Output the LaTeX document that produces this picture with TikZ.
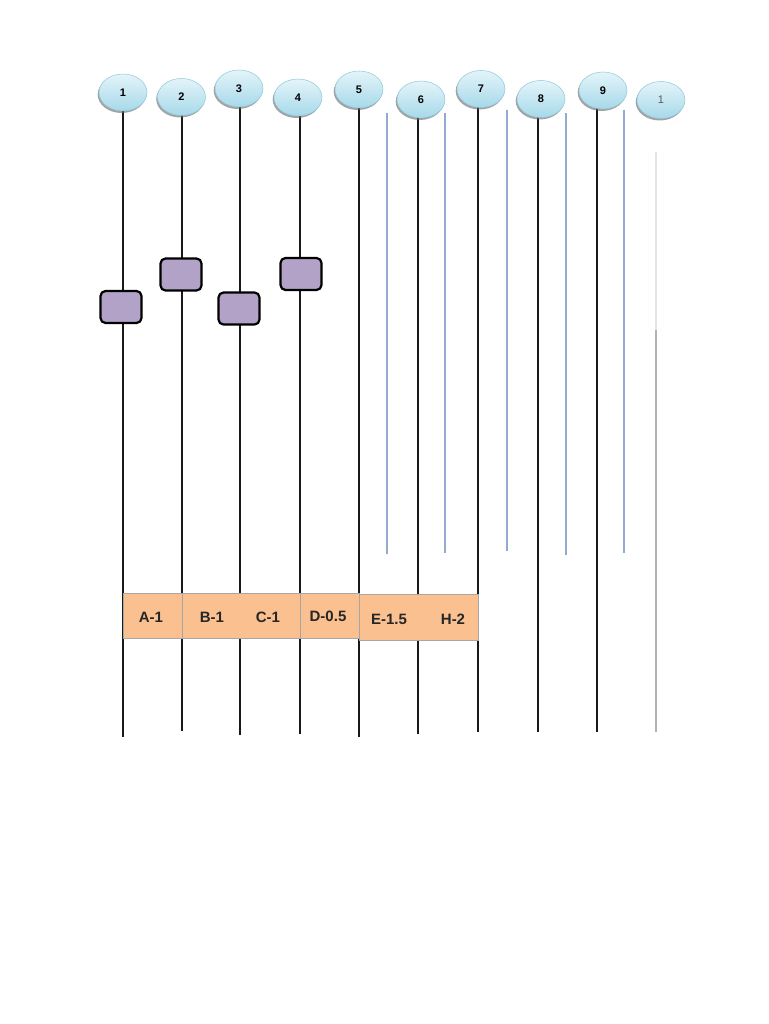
\documentclass[tikz,border=0pt]{standalone}
\usepackage{fontspec}
\setmainfont{Liberation Sans}
\usetikzlibrary{shadows,shapes.geometric,backgrounds}
\definecolor{oran}{HTML}{FAC090}
\definecolor{purp}{HTML}{B3A2C7}
\definecolor{bluel}{HTML}{93ABD3}
\definecolor{elltop}{HTML}{E4F4F9}
\definecolor{ellbot}{HTML}{A6D9EA}
\definecolor{elledge}{HTML}{8EC8DB}
\begin{document}
\begin{tikzpicture}[x=1pt,y=-1pt,
  post/.style={line width=2pt, black!90},
  thinpost/.style={line width=1.1pt, bluel},
  ell/.style={ellipse, minimum width=48pt, minimum height=37pt, inner sep=0pt,
    top color=elltop, bottom color=ellbot, draw=elledge, line width=0.5pt,
    font=\bfseries\fontsize{11}{11}\selectfont,
    drop shadow={shadow xshift=-1.3pt, shadow yshift=-2pt, fill=black!60, opacity=0.6}},
  slider/.style={rectangle, rounded corners=5pt, minimum width=41pt, minimum height=32pt,
    fill=purp, draw=black, line width=2.2pt, inner sep=0pt},
  seg/.style={rectangle, fill=oran, draw=black!35, line width=0.6pt, inner sep=0pt},
  lab/.style={font=\bfseries\fontsize{15}{15}\selectfont, text=black!85}]
% header ellipses
\node[ell] (e1) at (123,92.5) {1};
\node[ell] (e2) at (181.5,97) {2};
\node[ell] (e3) at (239,88.5) {3};
\node[ell] (e4) at (298,97.5) {4};
\node[ell] (e5) at (359,89.5) {5};
\node[ell] (e6) at (421,99.5) {6};
\node[ell] (e7) at (481,89) {7};
\node[ell] (e8) at (541,99) {8};
\node[ell] (e9) at (603,90.5) {9};
\node[ell, font=\fontsize{11}{11}\selectfont, text=black!65] (e10) at (661,100) {1\hspace{12pt}};
% bottom ends of posts
\coordinate (b1) at (123,737);
\coordinate (b2) at (182,731);
\coordinate (b3) at (240,735);
\coordinate (b4) at (300,734);
\coordinate (b5) at (359,737);
\coordinate (b6) at (418,734);
\coordinate (b7) at (478,732);
\coordinate (b8) at (538,732);
\coordinate (b9) at (597,732);
\coordinate (b10) at (656,732);
% thin blue guide lines
\coordinate (g1t) at (387,113); \coordinate (g1b) at (387,554);
\coordinate (g2t) at (445,113); \coordinate (g2b) at (445,553);
\coordinate (g3t) at (507,110); \coordinate (g3b) at (507,551);
\coordinate (g4t) at (566,113); \coordinate (g4b) at (566,555);
\coordinate (g5t) at (624,110); \coordinate (g5b) at (624,553);
\coordinate (t10) at (656,152);
\coordinate (m10) at (656,330);
\begin{scope}[on background layer]
  \path[fill=white] (0,0) rectangle (768,1024);
  \foreach \g in {1,...,5} \draw[thinpost] (g\g t) -- (g\g b);
  \foreach \i in {1,...,9} \draw[post] (b\i |- e\i) -- (b\i);
  \draw[line width=1.5pt, black!10] (t10) -- (m10);
  \draw[line width=1.5pt, black!30] (m10) -- (b10);
\end{scope}
% sliders
\node[slider] (s1) at (121,307) {};
\node[slider] (s2) at (181,274.5) {};
\node[slider] (s3) at (239,308.5) {};
\node[slider] (s4) at (301,274) {};
% orange bar segments
\node[seg, minimum width=59pt, minimum height=45pt] (pa) at (152.5,615.5) {};
\node[seg, minimum width=118pt, minimum height=45pt] (pbc) at (241,615.5) {};
\node[seg, minimum width=59pt, minimum height=45pt] (pd) at (329.5,615.5) {};
\node[seg, minimum width=119pt, minimum height=46pt] (peh) at (418.5,617) {};
% labels
\node[lab] (la) at (151,617) {A-1};
\node[lab] (lb) at (212,617) {B-1};
\node[lab] (lc) at (268,617) {C-1};
\node[lab] (ld) at (328,616) {D-0.5};
\node[lab] (le) at (389,619) {E-1.5};
\node[lab] (lh) at (453,619) {H-2};
\path[use as bounding box] (0,0) rectangle (768,1024);
\end{tikzpicture}
\end{document}
